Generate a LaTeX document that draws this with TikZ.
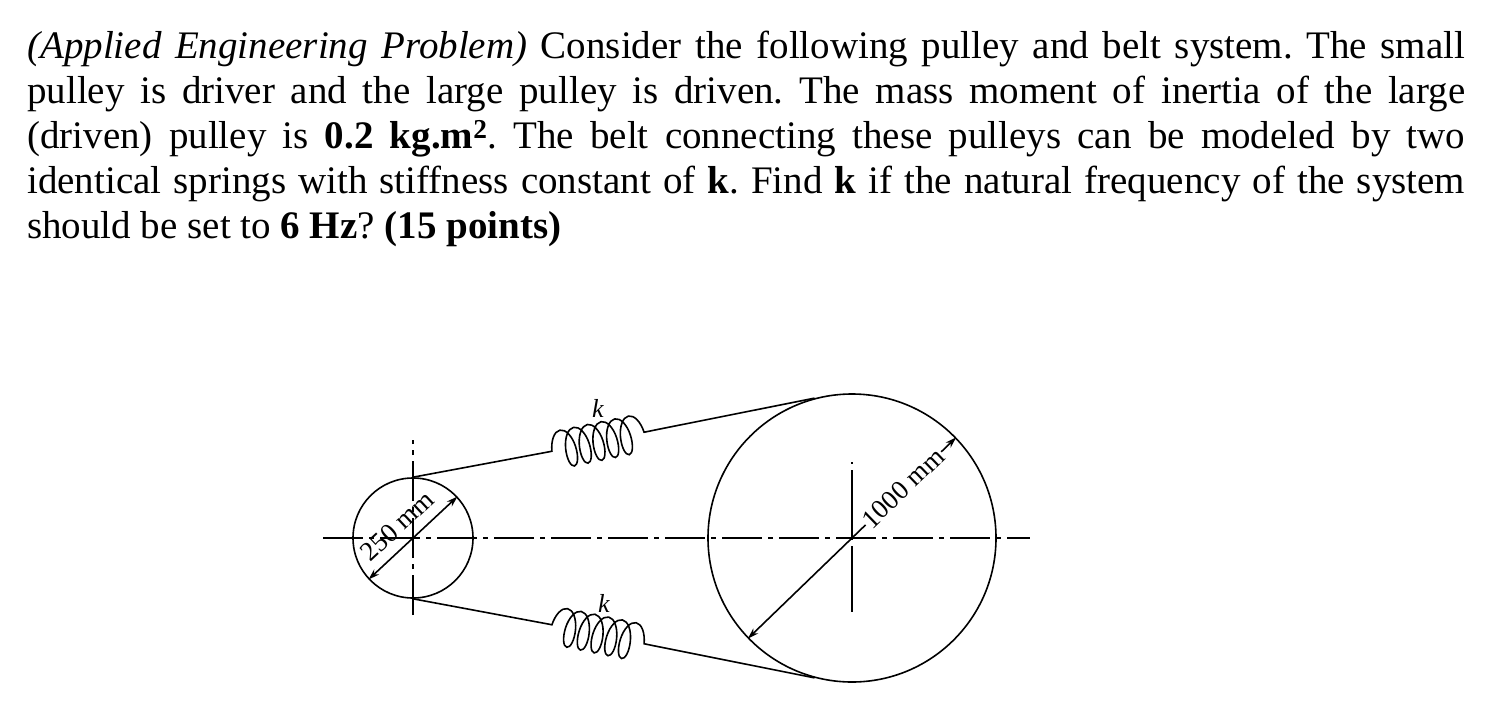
\documentclass[tikz,border=0pt]{standalone}
\usepackage{fontspec}
\setmainfont{Liberation Serif}
\usetikzlibrary{decorations.pathmorphing,arrows.meta}
\begin{document}
\frenchspacing
\begin{tikzpicture}[x=1pt,y=-1pt,
  ln/.style={line width=1.6pt},
  txt/.style={anchor=base west,inner sep=0,font=\fontsize{39}{45}\selectfont},
  dim/.style={ln,{Stealth[length=11pt,width=7pt]}-{Stealth[length=11pt,width=7pt]}},
  dimtxt/.style={inner sep=1pt,font=\fontsize{27}{27}\selectfont},
  cl/.style={line width=1.1pt,dash pattern=on 40pt off 6pt on 5pt off 6pt},
  coilst/.style={ln,decorate,decoration={coil,aspect=0.45,segment length=14pt,amplitude=19pt,pre length=4pt,post length=8pt}}]
\useasboundingbox (0,0) rectangle (1486,726);
\node[txt] (t1) at (27,58) {\makebox[1438pt][s]{\textit{(Applied Engineering Problem)} Consider the following pulley and belt system. The small}};
\node[txt] (t2) at (27,103) {\makebox[1438pt][s]{pulley is driver and the large pulley is driven. The mass moment of inertia of the large}};
\node[txt] (t3) at (27,148) {\makebox[1438pt][s]{(driven) pulley is \textbf{0.2 kg.m\textsuperscript{2}}. The belt connecting these pulleys can be modeled by two}};
\node[txt] (t4) at (27,193) {\makebox[1438pt][s]{identical springs with stiffness constant of \textbf{k}. Find \textbf{k} if the natural frequency of the system}};
\node[txt] (t5) at (27,238) {should be set to \textbf{6 Hz}? \textbf{(15 points)}};
% pulleys
\node[ln,draw,circle,minimum size=120pt,inner sep=0] (sp) at (413,538) {};
\node[ln,draw,circle,minimum size=288pt,inner sep=0] (lp) at (852,538) {};
% centerlines
\coordinate (hl) at (323,538); \coordinate (hr) at (1030,538);
\draw[cl] (hl) -- (hr);
\coordinate (sv1) at (413,440); \coordinate (sv2) at (413,615);
\draw[cl] (sv2) -- (sv1);
\coordinate (lv1) at (852,462); \coordinate (lv2) at (852,612);
\draw[line width=1.1pt,dash pattern=on 2pt off 6pt on 70pt off 6pt on 70pt] (lv1) -- (lv2);
% belts and springs
\coordinate (s1a) at (548,452); \coordinate (s1b) at (655,430);
\coordinate (s2a) at (548,624); \coordinate (s2b) at (655,646);
\draw[ln] (sp.north) -- (s1a);
\draw[coilst] (s1a) -- (s1b);
\draw[ln] (s1b) -- (lp.105);
\draw[ln] (sp.south) -- (s2a);
\draw[coilst] (s2a) -- (s2b);
\draw[ln] (s2b) -- (lp.-105);
\node[font=\fontsize{26}{26}\selectfont\itshape] (k1) at (598,408) {k};
\node[font=\fontsize{26}{26}\selectfont\itshape] (k2) at (604,603) {k};
% dimensions
\draw[dim] (sp.223) -- (sp.43);
\node[dimtxt,rotate=43] (d1) at (397,526) {250 mm};
\draw[dim] (lp.224) -- (lp.44);
\node[dimtxt,fill=white,rotate=44] (d2) at (903,488) {1000 mm};
\end{tikzpicture}
\end{document}
